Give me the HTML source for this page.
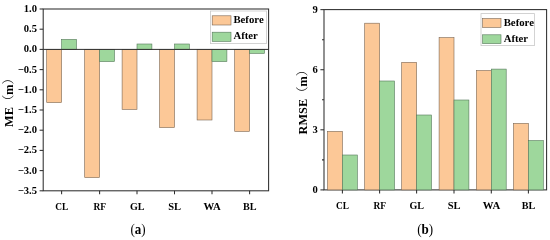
<!DOCTYPE html>
<html lang="en">
<head>
<meta charset="utf-8">
<title>ME and RMSE before and after</title>
<style>
html,body{margin:0;padding:0;background:#ffffff;}
body{width:550px;height:240px;overflow:hidden;}
svg{display:block;}
svg text{font-family:"Liberation Serif","Noto Serif CJK SC",serif;fill:#000000;}
</style>
</head>
<body>
<svg width="550" height="240" viewBox="0 0 550 240">
<rect x="0" y="0" width="550" height="240" fill="#ffffff"/>
<rect x="46.70" y="49.40" width="14.90" height="53.20" fill="#fcc897" stroke="#7a6552" stroke-width="0.6"/>
<rect x="61.60" y="39.40" width="14.90" height="10.00" fill="#9ed79c" stroke="#55775a" stroke-width="0.6"/>
<rect x="84.70" y="49.40" width="14.90" height="128.20" fill="#fcc897" stroke="#7a6552" stroke-width="0.6"/>
<rect x="99.60" y="49.40" width="14.90" height="12.20" fill="#9ed79c" stroke="#55775a" stroke-width="0.6"/>
<rect x="122.10" y="49.40" width="14.90" height="60.00" fill="#fcc897" stroke="#7a6552" stroke-width="0.6"/>
<rect x="137.00" y="44.00" width="14.90" height="5.40" fill="#9ed79c" stroke="#55775a" stroke-width="0.6"/>
<rect x="159.60" y="49.40" width="14.90" height="78.20" fill="#fcc897" stroke="#7a6552" stroke-width="0.6"/>
<rect x="174.50" y="44.00" width="14.90" height="5.40" fill="#9ed79c" stroke="#55775a" stroke-width="0.6"/>
<rect x="197.10" y="49.40" width="14.90" height="70.60" fill="#fcc897" stroke="#7a6552" stroke-width="0.6"/>
<rect x="212.00" y="49.40" width="14.90" height="12.20" fill="#9ed79c" stroke="#55775a" stroke-width="0.6"/>
<rect x="234.70" y="49.40" width="14.90" height="82.00" fill="#fcc897" stroke="#7a6552" stroke-width="0.6"/>
<rect x="249.60" y="49.40" width="14.90" height="4.00" fill="#9ed79c" stroke="#55775a" stroke-width="0.6"/>
<line x1="43.2" y1="49.4" x2="268.6" y2="49.4" stroke="#2e2e2e" stroke-width="1"/>
<rect x="43.2" y="9.0" width="225.40000000000003" height="181.8" fill="none" stroke="#2e2e2e" stroke-width="1.05"/>
<line x1="39.6" y1="9.00" x2="43.2" y2="9.00" stroke="#2e2e2e" stroke-width="1.05"/>
<text x="37.00" y="12.05" font-size="10.6" font-weight="bold" text-anchor="end" >1.0</text>
<line x1="39.6" y1="29.20" x2="43.2" y2="29.20" stroke="#2e2e2e" stroke-width="1.05"/>
<text x="37.00" y="32.25" font-size="10.6" font-weight="bold" text-anchor="end" >0.5</text>
<line x1="39.6" y1="49.40" x2="43.2" y2="49.40" stroke="#2e2e2e" stroke-width="1.05"/>
<text x="37.00" y="52.45" font-size="10.6" font-weight="bold" text-anchor="end" >0.0</text>
<line x1="39.6" y1="69.60" x2="43.2" y2="69.60" stroke="#2e2e2e" stroke-width="1.05"/>
<text x="37.00" y="72.65" font-size="10.6" font-weight="bold" text-anchor="end" >−0.5</text>
<line x1="39.6" y1="89.80" x2="43.2" y2="89.80" stroke="#2e2e2e" stroke-width="1.05"/>
<text x="37.00" y="92.85" font-size="10.6" font-weight="bold" text-anchor="end" >−1.0</text>
<line x1="39.6" y1="110.00" x2="43.2" y2="110.00" stroke="#2e2e2e" stroke-width="1.05"/>
<text x="37.00" y="113.05" font-size="10.6" font-weight="bold" text-anchor="end" >−1.5</text>
<line x1="39.6" y1="130.20" x2="43.2" y2="130.20" stroke="#2e2e2e" stroke-width="1.05"/>
<text x="37.00" y="133.25" font-size="10.6" font-weight="bold" text-anchor="end" >−2.0</text>
<line x1="39.6" y1="150.40" x2="43.2" y2="150.40" stroke="#2e2e2e" stroke-width="1.05"/>
<text x="37.00" y="153.45" font-size="10.6" font-weight="bold" text-anchor="end" >−2.5</text>
<line x1="39.6" y1="170.60" x2="43.2" y2="170.60" stroke="#2e2e2e" stroke-width="1.05"/>
<text x="37.00" y="173.65" font-size="10.6" font-weight="bold" text-anchor="end" >−3.0</text>
<line x1="39.6" y1="190.80" x2="43.2" y2="190.80" stroke="#2e2e2e" stroke-width="1.05"/>
<text x="37.00" y="193.85" font-size="10.6" font-weight="bold" text-anchor="end" >−3.5</text>
<line x1="61.6" y1="190.8" x2="61.6" y2="194.3" stroke="#2e2e2e" stroke-width="1.05"/>
<text x="61.80" y="210.20" font-size="10.6" font-weight="bold" text-anchor="middle" textLength="13.0" lengthAdjust="spacingAndGlyphs">CL</text>
<line x1="99.6" y1="190.8" x2="99.6" y2="194.3" stroke="#2e2e2e" stroke-width="1.05"/>
<text x="99.80" y="210.20" font-size="10.6" font-weight="bold" text-anchor="middle" textLength="12.6" lengthAdjust="spacingAndGlyphs">RF</text>
<line x1="137.0" y1="190.8" x2="137.0" y2="194.3" stroke="#2e2e2e" stroke-width="1.05"/>
<text x="137.20" y="210.20" font-size="10.6" font-weight="bold" text-anchor="middle" textLength="14.6" lengthAdjust="spacingAndGlyphs">GL</text>
<line x1="174.5" y1="190.8" x2="174.5" y2="194.3" stroke="#2e2e2e" stroke-width="1.05"/>
<text x="174.70" y="210.20" font-size="10.6" font-weight="bold" text-anchor="middle" textLength="12.9" lengthAdjust="spacingAndGlyphs">SL</text>
<line x1="212.0" y1="190.8" x2="212.0" y2="194.3" stroke="#2e2e2e" stroke-width="1.05"/>
<text x="212.20" y="210.20" font-size="10.6" font-weight="bold" text-anchor="middle" textLength="17.3" lengthAdjust="spacingAndGlyphs">WA</text>
<line x1="249.6" y1="190.8" x2="249.6" y2="194.3" stroke="#2e2e2e" stroke-width="1.05"/>
<text x="249.80" y="210.20" font-size="10.6" font-weight="bold" text-anchor="middle" textLength="13.6" lengthAdjust="spacingAndGlyphs">BL</text>
<text transform="translate(13.2,126.9) rotate(-90)" font-size="12.3" font-weight="bold">ME<tspan font-weight="normal">（</tspan>m<tspan font-weight="normal">）</tspan></text>
<rect x="210.4" y="11" width="56" height="32.6" fill="#ffffff" stroke="#c8c8c8" stroke-width="0.8"/>
<rect x="212.20" y="15.80" width="18.80" height="9.20" fill="#fcc897" stroke="#7a6552" stroke-width="0.6"/>
<rect x="212.20" y="32.20" width="18.80" height="9.20" fill="#9ed79c" stroke="#55775a" stroke-width="0.6"/>
<text x="233.40" y="23.20" font-size="11" font-weight="bold" text-anchor="start" textLength="30.3" lengthAdjust="spacingAndGlyphs">Before</text>
<text x="233.40" y="39.40" font-size="11" font-weight="bold" text-anchor="start" textLength="24.4" lengthAdjust="spacingAndGlyphs">After</text>
<text transform="translate(138,234.2) scale(0.92,1)" font-size="14.2" text-anchor="middle">(<tspan font-weight="bold">a</tspan>)</text>
<rect x="324.0" y="9.6" width="222.60000000000002" height="180.3" fill="none" stroke="#2e2e2e" stroke-width="1.05"/>
<rect x="327.50" y="131.40" width="14.90" height="58.50" fill="#fcc897" stroke="#7a6552" stroke-width="0.6"/>
<rect x="342.40" y="155.00" width="14.90" height="34.90" fill="#9ed79c" stroke="#55775a" stroke-width="0.6"/>
<rect x="364.70" y="23.20" width="14.90" height="166.70" fill="#fcc897" stroke="#7a6552" stroke-width="0.6"/>
<rect x="379.60" y="81.00" width="14.90" height="108.90" fill="#9ed79c" stroke="#55775a" stroke-width="0.6"/>
<rect x="401.70" y="62.30" width="14.90" height="127.60" fill="#fcc897" stroke="#7a6552" stroke-width="0.6"/>
<rect x="416.60" y="115.00" width="14.90" height="74.90" fill="#9ed79c" stroke="#55775a" stroke-width="0.6"/>
<rect x="439.10" y="37.60" width="14.90" height="152.30" fill="#fcc897" stroke="#7a6552" stroke-width="0.6"/>
<rect x="454.00" y="100.00" width="14.90" height="89.90" fill="#9ed79c" stroke="#55775a" stroke-width="0.6"/>
<rect x="476.40" y="70.50" width="14.90" height="119.40" fill="#fcc897" stroke="#7a6552" stroke-width="0.6"/>
<rect x="491.30" y="69.10" width="14.90" height="120.80" fill="#9ed79c" stroke="#55775a" stroke-width="0.6"/>
<rect x="513.50" y="123.40" width="14.90" height="66.50" fill="#fcc897" stroke="#7a6552" stroke-width="0.6"/>
<rect x="528.40" y="140.60" width="14.90" height="49.30" fill="#9ed79c" stroke="#55775a" stroke-width="0.6"/>
<line x1="320.4" y1="189.90" x2="324.0" y2="189.90" stroke="#2e2e2e" stroke-width="1.05"/>
<text x="317.80" y="192.80" font-size="10.6" font-weight="bold" text-anchor="end" >0</text>
<line x1="320.4" y1="129.81" x2="324.0" y2="129.81" stroke="#2e2e2e" stroke-width="1.05"/>
<text x="317.80" y="132.71" font-size="10.6" font-weight="bold" text-anchor="end" >3</text>
<line x1="320.4" y1="69.72" x2="324.0" y2="69.72" stroke="#2e2e2e" stroke-width="1.05"/>
<text x="317.80" y="72.62" font-size="10.6" font-weight="bold" text-anchor="end" >6</text>
<line x1="320.4" y1="9.63" x2="324.0" y2="9.63" stroke="#2e2e2e" stroke-width="1.05"/>
<text x="317.80" y="12.53" font-size="10.6" font-weight="bold" text-anchor="end" >9</text>
<line x1="322.0" y1="159.86" x2="324.0" y2="159.86" stroke="#2e2e2e" stroke-width="1.05"/>
<line x1="322.0" y1="99.77" x2="324.0" y2="99.77" stroke="#2e2e2e" stroke-width="1.05"/>
<line x1="322.0" y1="39.67" x2="324.0" y2="39.67" stroke="#2e2e2e" stroke-width="1.05"/>
<line x1="342.4" y1="189.9" x2="342.4" y2="193.4" stroke="#2e2e2e" stroke-width="1.05"/>
<text x="342.60" y="209.00" font-size="10.6" font-weight="bold" text-anchor="middle" textLength="13.0" lengthAdjust="spacingAndGlyphs">CL</text>
<line x1="379.6" y1="189.9" x2="379.6" y2="193.4" stroke="#2e2e2e" stroke-width="1.05"/>
<text x="379.80" y="209.00" font-size="10.6" font-weight="bold" text-anchor="middle" textLength="12.6" lengthAdjust="spacingAndGlyphs">RF</text>
<line x1="416.6" y1="189.9" x2="416.6" y2="193.4" stroke="#2e2e2e" stroke-width="1.05"/>
<text x="416.80" y="209.00" font-size="10.6" font-weight="bold" text-anchor="middle" textLength="14.6" lengthAdjust="spacingAndGlyphs">GL</text>
<line x1="454.0" y1="189.9" x2="454.0" y2="193.4" stroke="#2e2e2e" stroke-width="1.05"/>
<text x="454.20" y="209.00" font-size="10.6" font-weight="bold" text-anchor="middle" textLength="12.9" lengthAdjust="spacingAndGlyphs">SL</text>
<line x1="491.3" y1="189.9" x2="491.3" y2="193.4" stroke="#2e2e2e" stroke-width="1.05"/>
<text x="491.50" y="209.00" font-size="10.6" font-weight="bold" text-anchor="middle" textLength="17.3" lengthAdjust="spacingAndGlyphs">WA</text>
<line x1="528.4" y1="189.9" x2="528.4" y2="193.4" stroke="#2e2e2e" stroke-width="1.05"/>
<text x="528.60" y="209.00" font-size="10.6" font-weight="bold" text-anchor="middle" textLength="13.6" lengthAdjust="spacingAndGlyphs">BL</text>
<text transform="translate(307.2,134.4) rotate(-90)" font-size="12.3" font-weight="bold">RMSE<tspan font-weight="normal">（</tspan>m<tspan font-weight="normal">）</tspan></text>
<rect x="481" y="13.6" width="53.6" height="32" fill="#ffffff" stroke="#c8c8c8" stroke-width="0.8"/>
<rect x="482.60" y="18.60" width="18.40" height="8.80" fill="#fcc897" stroke="#7a6552" stroke-width="0.6"/>
<rect x="482.60" y="34.80" width="18.40" height="8.80" fill="#9ed79c" stroke="#55775a" stroke-width="0.6"/>
<text x="503.70" y="25.90" font-size="11" font-weight="bold" text-anchor="start" textLength="30.3" lengthAdjust="spacingAndGlyphs">Before</text>
<text x="503.70" y="42.30" font-size="11" font-weight="bold" text-anchor="start" textLength="24.4" lengthAdjust="spacingAndGlyphs">After</text>
<text transform="translate(425.2,234.2) scale(0.92,1)" font-size="14.2" text-anchor="middle">(<tspan font-weight="bold">b</tspan>)</text>
</svg>
</body>
</html>
